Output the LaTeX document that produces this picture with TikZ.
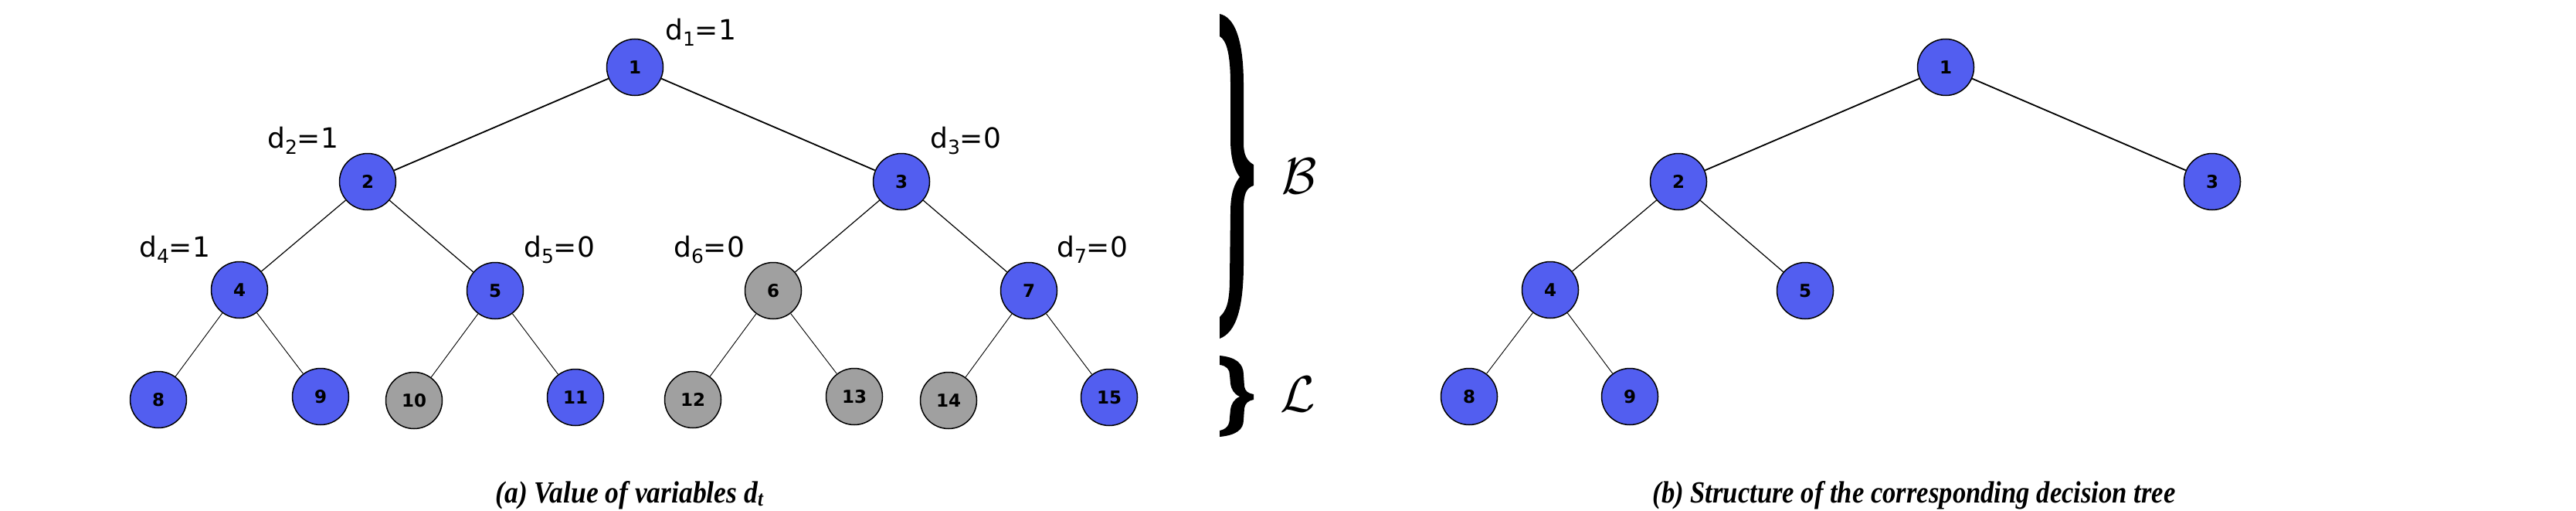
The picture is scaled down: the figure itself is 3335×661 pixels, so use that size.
\documentclass[tikz,border=0pt]{standalone}
\usepackage{fontspec}
\usepackage{graphicx}
\newfontfamily\nodefont{DejaVu Sans}
\newfontfamily\labfont{DejaVu Sans}
\newfontfamily\capfont{Liberation Serif}
\definecolor{nblue}{RGB}{82,94,240}
\definecolor{ngray}{RGB}{160,160,160}
\newcommand\dsub[1]{\raisebox{-8pt}{\fontsize{25}{25}\selectfont #1}}
\begin{document}
\begin{tikzpicture}[x=1pt,y=-1pt,
 tn/.style={circle, draw=black, line width=1.5pt, minimum size=73pt, inner sep=0pt,
   font={\nodefont\bfseries\fontsize{23}{23}\selectfont}},
 bn/.style={tn, fill=nblue},
 gn/.style={tn, fill=ngray},
 e1/.style={line width=1.8pt},
 e2/.style={line width=1.2pt},
 e3/.style={line width=0.9pt},
 dl/.style={anchor=base west, inner sep=0pt, font={\labfont\fontsize{36}{38}\selectfont}},
 captxt/.style={anchor=base, inner sep=0pt, font={\capfont\bfseries\itshape\fontsize{30}{32}\selectfont}},
 setlab/.style={inner sep=0pt}]
\useasboundingbox (0,0) rectangle (3335,661);
\fill[white] (0,0) rectangle (3335,661);

% left tree
\node[bn] (a1) at (822,87) {1};
\node[bn] (a2) at (476,235) {2};
\node[bn] (a3) at (1167,235) {3};
\node[bn] (a4) at (310,375) {4};
\node[bn] (a5) at (641,376) {5};
\node[gn] (a6) at (1001,376) {6};
\node[bn] (a7) at (1332,376) {7};
\node[bn] (a8) at (205,517) {8};
\node[bn] (a9) at (415,513) {9};
\node[gn] (a10) at (536,518) {10};
\node[bn] (a11) at (745,514) {11};
\node[gn] (a12) at (897,517) {12};
\node[gn] (a13) at (1106,513) {13};
\node[gn] (a14) at (1228,518) {14};
\node[bn] (a15) at (1436,514) {15};

\draw[e1] (a1) -- (a2);
\draw[e1] (a1) -- (a3);
\draw[e2] (a2) -- (a4);
\draw[e2] (a2) -- (a5);
\draw[e2] (a3) -- (a6);
\draw[e2] (a3) -- (a7);
\draw[e3] (a4) -- (a8);
\draw[e3] (a4) -- (a9);
\draw[e3] (a5) -- (a10);
\draw[e3] (a5) -- (a11);
\draw[e3] (a6) -- (a12);
\draw[e3] (a6) -- (a13);
\draw[e3] (a7) -- (a14);
\draw[e3] (a7) -- (a15);

% d labels
\node[dl] (l1) at (861,52) {d\dsub{1}=1};
\node[dl] (l2) at (346,191) {d\dsub{2}=1};
\node[dl] (l3) at (1204,191) {d\dsub{3}=0};
\node[dl] (l4) at (180,332) {d\dsub{4}=1};
\node[dl] (l5) at (678,332) {d\dsub{5}=0};
\node[dl] (l6) at (872,332) {d\dsub{6}=0};
\node[dl] (l7) at (1368,332) {d\dsub{7}=0};

% braces
\fill (1579,18) .. controls (1598,22) and (1610,50) .. (1610,110) -- (1610,185)
  .. controls (1610,200) and (1614,208) .. (1623,213) -- (1623,240)
  .. controls (1614,243) and (1610,250) .. (1610,270) -- (1610,340)
  .. controls (1610,400) and (1600,430) .. (1579,438) -- (1579,410)
  .. controls (1588,402) and (1592,390) .. (1592,360) -- (1593,275)
  .. controls (1593,250) and (1598,238) .. (1605,229)
  .. controls (1598,220) and (1593,205) .. (1593,180) -- (1593,110)
  .. controls (1593,70) and (1588,52) .. (1579,47) -- cycle;
\fill (1579,460) .. controls (1600,462) and (1610,470) .. (1610,485) -- (1611,500)
  .. controls (1612,506) and (1616,509) .. (1623,510) -- (1623,517)
  .. controls (1616,518) and (1612,522) .. (1611,528) -- (1610,543)
  .. controls (1610,556) and (1600,563) .. (1579,565) -- (1579,557)
  .. controls (1588,555) and (1592,550) .. (1592,540) -- (1593,530)
  .. controls (1594,522) and (1598,516) .. (1605,513)
  .. controls (1598,510) and (1594,504) .. (1593,496) -- (1592,485)
  .. controls (1592,478) and (1588,473) .. (1579,472) -- cycle;
\node[setlab] (B) at (1682,228) {\scalebox{6.6}{$\mathcal{B}$}};
\node[setlab] (L) at (1680,510) {\scalebox{6.6}{$\mathcal{L}$}};

% right tree
\node[bn] (b1) at (2519,87) {1};
\node[bn] (b2) at (2173,235) {2};
\node[bn] (b3) at (2864,235) {3};
\node[bn] (b4) at (2007,375) {4};
\node[bn] (b5) at (2337,376) {5};
\node[bn] (b8) at (1902,513) {8};
\node[bn] (b9) at (2110,513) {9};
\draw[e1] (b1) -- (b2);
\draw[e1] (b1) -- (b3);
\draw[e2] (b2) -- (b4);
\draw[e2] (b2) -- (b5);
\draw[e3] (b4) -- (b8);
\draw[e3] (b4) -- (b9);

% captions
\node[captxt] (ca) at (815,650) {\resizebox{347pt}{28pt}{(a) Value of variables \textit{d}\textsubscript{\textit{t}}}};
\node[captxt] (cb) at (2478,650) {\resizebox{677pt}{28pt}{(b) Structure of the corresponding decision tree}};
\end{tikzpicture}
\end{document}
